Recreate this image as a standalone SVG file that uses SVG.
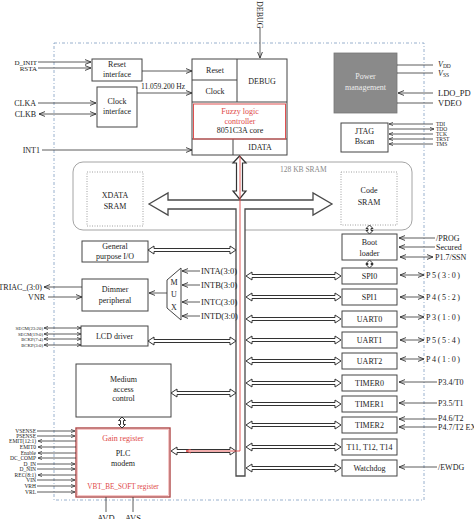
<svg xmlns="http://www.w3.org/2000/svg" width="474" height="519" viewBox="0 0 474 519">
<style>
text{font-family:"Liberation Serif","Times New Roman",serif;fill:#222}
.c{font-size:8px;text-anchor:middle}
.l{font-size:8px;text-anchor:start}
.e{font-size:8px;text-anchor:end}
.s{font-size:5.5px;text-anchor:end}
.ss{font-size:5.5px;text-anchor:start}
.xs{font-size:4.8px;text-anchor:end}
.red{fill:#e04848}
.box{fill:#fff;stroke:#444;stroke-width:1}
.ln{fill:none;stroke:#333;stroke-width:0.8}
.da{fill:#fff;stroke:#333;stroke-width:1}
</style>
<defs>
<marker id="a" viewBox="0 0 6 6" refX="6" refY="3" markerWidth="6" markerHeight="6" markerUnits="userSpaceOnUse" orient="auto-start-reverse"><path d="M0,0.6 L6,3 L0,5.4" fill="none" stroke="#333" stroke-width="0.9"/></marker>
<marker id="b" viewBox="0 0 6 6" refX="6" refY="3" markerWidth="4" markerHeight="4" markerUnits="userSpaceOnUse" orient="auto-start-reverse"><path d="M0,0.6 L6,3 L0,5.4" fill="none" stroke="#333" stroke-width="1.1"/></marker>
<marker id="rm" viewBox="0 0 6 6" refX="6" refY="3" markerWidth="5" markerHeight="5" markerUnits="userSpaceOnUse" orient="auto"><path d="M0,0.6 L6,3 L0,5.4" fill="none" stroke="#e04848" stroke-width="1"/></marker>
<path id="rda" d="M246,0 L252,-4 L252,-1.5 L335,-1.5 L335,-4 L341,0 L335,4 L335,1.5 L252,1.5 L252,4 Z"/>
</defs>

<rect x="54" y="43" width="370" height="457" fill="none" stroke="#7d9cc0" stroke-width="0.8" stroke-dasharray="3 2 1 2"/>

<g id="sram">
<rect x="73" y="162" width="339" height="68" rx="10" fill="none" stroke="#9a9a9a" stroke-width="0.9"/>
<text x="280" y="172" class="l" style="fill:#888;font-size:7.5px">128 KB SRAM</text>
</g>
<g id="xdata">
<rect x="87" y="172" width="56" height="54" fill="none" stroke="#888" stroke-width="0.8" stroke-dasharray="1 1.5"/>
<text x="115" y="198" class="c">XDATA</text><text x="115" y="209" class="c">SRAM</text>
</g>
<g id="code">
<rect x="341" y="172" width="56" height="53" fill="none" stroke="#888" stroke-width="0.8" stroke-dasharray="1 1.5"/>
<text x="369" y="193" class="c">Code</text><text x="369" y="205" class="c">SRAM</text>
</g>

<g id="cpu">
<rect x="192" y="59" width="95" height="96" class="box"/>
<path d="M192,80 H237 M237,59 V102 M192,102 H287 M192,139 H287 M233,139 V155" class="ln" style="stroke:#444;stroke-width:1"/>
<rect x="193.5" y="104" width="92" height="35" fill="none" stroke="#e05050" stroke-width="1"/>
<text x="215" y="73" class="c">Reset</text>
<text x="215" y="94" class="c">Clock</text>
<text x="262" y="84" class="c">DEBUG</text>
<text x="240" y="114" class="c red">Fuzzy logic</text>
<text x="240" y="124" class="c red">controller</text>
<text x="240" y="133" class="c">8051C3A core</text>
<text x="260" y="150" class="c">IDATA</text>
</g>

<g id="reset">
<rect x="92" y="59" width="50" height="22" class="box"/>
<text x="117" y="67" class="c">Reset</text><text x="117" y="77" class="c">interface</text>
</g>
<g id="clock">
<rect x="97" y="87" width="40" height="40" class="box"/>
<text x="117" y="104" class="c">Clock</text><text x="117" y="114" class="c">interface</text>
</g>

<g id="power">
<rect x="334" y="53" width="63" height="60" fill="#8a8a8a" stroke="#777" stroke-width="0.8"/>
<text x="365.5" y="79" class="c" style="fill:#eee">Power</text>
<text x="365.5" y="90" class="c" style="fill:#eee">management</text>
</g>
<g id="jtag">
<rect x="341" y="123" width="47" height="29" class="box"/>
<text x="364.5" y="134" class="c">JTAG</text><text x="364.5" y="144" class="c">Bscan</text>
</g>

<g id="gpio">
<rect x="82" y="241" width="66" height="21" class="box"/>
<text x="115" y="249" class="c">General</text><text x="115" y="259" class="c">purpose I/O</text>
</g>
<g id="dimmer">
<rect x="82" y="279" width="66" height="32" class="box"/>
<text x="115" y="292" class="c">Dimmer</text><text x="115" y="303" class="c">peripheral</text>
</g>
<g id="mux">
<path d="M167,280 L181,268 L181,320 L167,308 Z" fill="#fff" stroke="#444" stroke-width="1"/>
<text x="174" y="285" class="c">M</text><text x="174" y="297" class="c">U</text><text x="174" y="310" class="c">X</text>
</g>
<g id="lcd">
<rect x="81" y="326" width="67" height="20" class="box"/>
<text x="114.5" y="339" class="c">LCD driver</text>
</g>
<g id="mac">
<rect x="76" y="364" width="95" height="53" class="box"/>
<text x="123.5" y="382" class="c">Medium</text><text x="123.5" y="392" class="c">access</text><text x="123.5" y="401" class="c">control</text>
</g>
<g id="plc">
<rect x="76" y="428" width="94" height="69" fill="#fff" stroke="#b04848" stroke-width="1.4"/>
<rect x="77.5" y="429.5" width="91" height="66" fill="none" stroke="#f0a0a0" stroke-width="0.6"/>
<text x="123" y="441" class="c red">Gain register</text>
<text x="123" y="456" class="c">PLC</text>
<text x="123" y="466" class="c">modem</text>
<text x="123" y="489" class="c red" style="font-size:7.2px">VBT_BE_SOFT register</text>
</g>

<g id="boot">
<rect x="342" y="234" width="55" height="26" class="box"/>
<text x="369.5" y="245" class="c">Boot</text><text x="369.5" y="256" class="c">loader</text>
</g>
<g id="spi0"><rect x="342" y="268" width="55" height="16" class="box"/><text x="369.5" y="279" class="c">SPI0</text></g>
<g id="spi1"><rect x="342" y="289" width="55" height="16" class="box"/><text x="369.5" y="300" class="c">SPI1</text></g>
<g id="uart0"><rect x="342" y="311" width="55" height="16" class="box"/><text x="369.5" y="322" class="c">UART0</text></g>
<g id="uart1"><rect x="342" y="332" width="55" height="16" class="box"/><text x="369.5" y="343" class="c">UART1</text></g>
<g id="uart2"><rect x="342" y="353" width="55" height="16" class="box"/><text x="369.5" y="364" class="c">UART2</text></g>
<g id="timer0"><rect x="342" y="375" width="55" height="16" class="box"/><text x="369.5" y="386" class="c">TIMER0</text></g>
<g id="timer1"><rect x="342" y="396" width="55" height="16" class="box"/><text x="369.5" y="407" class="c">TIMER1</text></g>
<g id="timer2"><rect x="342" y="417" width="55" height="16" class="box"/><text x="369.5" y="428" class="c">TIMER2</text></g>
<g id="t11"><rect x="342" y="439" width="55" height="16" class="box"/><text x="369.5" y="450" class="c">T11, T12, T14</text></g>
<g id="watchdog"><rect x="342" y="460" width="55" height="16" class="box"/><text x="369.5" y="471" class="c">Watchdog</text></g>

<g id="connectors">
<path d="M149,204 L168,193 L168,200 L313,200 L313,193 L332,204 L313,215 L313,209 L245,209 L245,476 L236,476 L236,209 L168,209 L168,215 Z" fill="#fff" stroke="#4a4a4a" stroke-width="1.3"/>
<path d="M239.5,156 L246,163 L242.5,163 L242.5,191 L246,191 L239.5,199 L233,191 L236.5,191 L236.5,163 L233,163 Z" class="da" style="stroke-width:1.2"/>
<path d="M148,250 L154,246 L154,248.5 L230,248.5 L230,246 L236,250 L230,254 L230,251.5 L154,251.5 L154,254 Z" class="da"/>
<path d="M148,341 L154,337 L154,339.5 L230,339.5 L230,337 L236,341 L230,345 L230,342.5 L154,342.5 L154,345 Z" class="da"/>
<path d="M171,393 L177,389 L177,391.5 L230,391.5 L230,389 L236,393 L230,397 L230,394.5 L177,394.5 L177,397 Z" class="da"/>
<path d="M171,451 L177,447 L177,449.5 L230,449.5 L230,447 L236,451 L230,455 L230,452.5 L177,452.5 L177,455 Z" class="da"/>
<use href="#rda" y="276" class="da"/>
<use href="#rda" y="297" class="da"/>
<use href="#rda" y="319" class="da"/>
<use href="#rda" y="340" class="da"/>
<use href="#rda" y="361" class="da"/>
<use href="#rda" y="383" class="da"/>
<use href="#rda" y="404" class="da"/>
<use href="#rda" y="425" class="da"/>
<use href="#rda" y="447" class="da"/>
<use href="#rda" y="468" class="da"/>
<path d="M369.5,225 L373,228.5 L371,228.5 L371,230.5 L373,230.5 L369.5,234 L366,230.5 L368,230.5 L368,228.5 L366,228.5 Z" class="da"/>
<path d="M369.5,260 L373,263.5 L371,263.5 L371,264.5 L373,264.5 L369.5,268 L366,264.5 L368,264.5 L368,263.5 L366,263.5 Z" class="da"/>
<path d="M122,417 L125.5,420.5 L123.5,420.5 L123.5,424.5 L125.5,424.5 L122,428 L118.5,424.5 L120.5,424.5 L120.5,420.5 L118.5,420.5 Z" class="da"/>
<path d="M240,156 V451 H186" fill="none" stroke="#e04848" stroke-width="0.9" marker-end="url(#rm)"/>

<line x1="38" y1="62" x2="91" y2="62" class="ln" marker-end="url(#a)"/>
<line x1="38" y1="68" x2="91" y2="68" class="ln" marker-end="url(#a)"/>
<line x1="142" y1="71" x2="192" y2="71" class="ln" marker-end="url(#a)"/>
<line x1="137" y1="93" x2="192" y2="93" class="ln" marker-end="url(#a)"/>
<line x1="38" y1="103" x2="96" y2="103" class="ln" marker-end="url(#a)"/>
<line x1="39" y1="114" x2="96" y2="114" class="ln" marker-start="url(#a)" marker-end="url(#a)"/>
<line x1="42" y1="150" x2="192" y2="150" class="ln" marker-end="url(#a)"/>
<line x1="260" y1="27" x2="260" y2="58" class="ln" marker-end="url(#a)"/>
<line x1="397" y1="65" x2="433" y2="65" class="ln"/>
<line x1="397" y1="73" x2="433" y2="73" class="ln"/>
<line x1="433" y1="93" x2="398" y2="93" class="ln" marker-end="url(#a)"/>
<line x1="397" y1="103" x2="433" y2="103" class="ln"/>
<line x1="433" y1="124" x2="389" y2="124" class="ln" marker-end="url(#b)"/>
<line x1="389" y1="129" x2="434" y2="129" class="ln" marker-end="url(#b)"/>
<line x1="433" y1="134" x2="389" y2="134" class="ln" marker-end="url(#b)"/>
<line x1="433" y1="139" x2="389" y2="139" class="ln" marker-end="url(#b)"/>
<line x1="433" y1="144" x2="389" y2="144" class="ln" marker-end="url(#b)"/>
<line x1="435" y1="238" x2="399" y2="238" class="ln" marker-end="url(#a)"/>
<line x1="435" y1="247" x2="399" y2="247" class="ln" marker-end="url(#a)"/>
<line x1="400" y1="257" x2="433" y2="257" class="ln" marker-start="url(#a)" marker-end="url(#a)"/>
<line x1="400" y1="275" x2="424" y2="275" class="ln" marker-start="url(#a)" marker-end="url(#a)"/>
<line x1="400" y1="297" x2="424" y2="297" class="ln" marker-start="url(#a)" marker-end="url(#a)"/>
<line x1="400" y1="317" x2="424" y2="317" class="ln" marker-start="url(#a)" marker-end="url(#a)"/>
<line x1="400" y1="340" x2="424" y2="340" class="ln" marker-start="url(#a)" marker-end="url(#a)"/>
<line x1="400" y1="359" x2="424" y2="359" class="ln" marker-start="url(#a)" marker-end="url(#a)"/>
<line x1="437" y1="382" x2="399" y2="382" class="ln" marker-end="url(#a)"/>
<line x1="437" y1="403" x2="399" y2="403" class="ln" marker-end="url(#a)"/>
<line x1="437" y1="419" x2="399" y2="419" class="ln" marker-end="url(#a)"/>
<line x1="437" y1="427" x2="399" y2="427" class="ln" marker-end="url(#a)"/>
<line x1="437" y1="467" x2="399" y2="467" class="ln" marker-end="url(#a)"/>
<line x1="82" y1="287" x2="44" y2="287" class="ln" marker-end="url(#a)"/>
<line x1="48" y1="297" x2="82" y2="297" class="ln" marker-end="url(#a)"/>
<line x1="167" y1="293" x2="149" y2="293" class="ln" marker-end="url(#a)"/>
<line x1="200" y1="271" x2="182" y2="271" class="ln" marker-end="url(#a)"/>
<line x1="200" y1="285" x2="182" y2="285" class="ln" marker-end="url(#a)"/>
<line x1="200" y1="302" x2="182" y2="302" class="ln" marker-end="url(#a)"/>
<line x1="200" y1="316" x2="182" y2="316" class="ln" marker-end="url(#a)"/>
<line x1="44" y1="328" x2="81" y2="328" class="ln" marker-start="url(#b)" marker-end="url(#b)"/>
<line x1="44" y1="334" x2="81" y2="334" class="ln" marker-start="url(#b)" marker-end="url(#b)"/>
<line x1="44" y1="339" x2="81" y2="339" class="ln" marker-start="url(#b)" marker-end="url(#b)"/>
<line x1="44" y1="345" x2="81" y2="345" class="ln" marker-start="url(#b)" marker-end="url(#b)"/>
<line x1="37" y1="431" x2="75" y2="431" class="ln" marker-end="url(#b)"/>
<line x1="37" y1="436" x2="75" y2="436" class="ln" marker-end="url(#b)"/>
<line x1="76" y1="441" x2="38" y2="441" class="ln" marker-end="url(#b)"/>
<line x1="76" y1="447" x2="38" y2="447" class="ln" marker-end="url(#b)"/>
<line x1="76" y1="453" x2="38" y2="453" class="ln" marker-end="url(#b)"/>
<line x1="76" y1="458" x2="38" y2="458" class="ln" marker-end="url(#b)"/>
<line x1="37" y1="464" x2="75" y2="464" class="ln" marker-end="url(#b)"/>
<line x1="37" y1="469" x2="75" y2="469" class="ln" marker-end="url(#b)"/>
<line x1="76" y1="475" x2="38" y2="475" class="ln" marker-end="url(#b)"/>
<line x1="37" y1="480" x2="75" y2="480" class="ln" marker-end="url(#b)"/>
<line x1="37" y1="486" x2="75" y2="486" class="ln" marker-end="url(#b)"/>
<line x1="37" y1="492" x2="75" y2="492" class="ln" marker-end="url(#b)"/>
<line x1="106" y1="497" x2="106" y2="512" class="ln"/>
<line x1="133" y1="497" x2="133" y2="512" class="ln"/>
</g>

<g id="labels">
<text x="37" y="64.5" class="e" style="font-size:7px">D_INIT</text>
<text x="37" y="70.5" class="e" style="font-size:7px">RSTA</text>
<text x="163" y="89" class="c" style="font-size:7.5px">11.059.200 Hz</text>
<text x="36" y="106" class="e">CLKA</text>
<text x="36" y="117" class="e">CLKB</text>
<text x="40" y="153" class="e">INT1</text>
<text transform="translate(257,1) rotate(90)" class="l">DEBUG</text>
<text x="438" y="67" style="font-size:8px"><tspan font-style="italic">V</tspan><tspan font-size="5.5" dy="1">DD</tspan></text>
<text x="438" y="76" style="font-size:8px"><tspan font-style="italic">V</tspan><tspan font-size="5.5" dy="1">SS</tspan></text>
<text x="438" y="96" class="l" style="font-size:8.5px">LDO_PD</text>
<text x="438" y="106" class="l" style="font-size:8.5px">VDEO</text>
<text x="436" y="126" class="ss">TDI</text>
<text x="436" y="131" class="ss">TDO</text>
<text x="436" y="136" class="ss">TCK</text>
<text x="436" y="141" class="ss">TRST</text>
<text x="436" y="146" class="ss">TMS</text>
<text x="436" y="241" class="l">/PROG</text>
<text x="436" y="250" class="l">Secured</text>
<text x="435" y="260" class="l">P1.7/SSN</text>
<text x="426" y="278" class="l" textLength="34">P5(3:0)</text>
<text x="426" y="300" class="l" textLength="34">P4(5:2)</text>
<text x="426" y="320" class="l" textLength="34">P3(1:0)</text>
<text x="426" y="343" class="l" textLength="34">P5(5:4)</text>
<text x="426" y="362" class="l" textLength="34">P4(1:0)</text>
<text x="438" y="385" class="l">P3.4/T0</text>
<text x="438" y="406" class="l">P3.5/T1</text>
<text x="438" y="421" class="l">P4.6/T2</text>
<text x="438" y="430" class="l">P4.7/T2 EX</text>
<text x="438" y="470" class="l">/EWDG</text>
<text x="42" y="290" class="e">TRIAC_(3:0)</text>
<text x="45" y="300" class="e">VNR</text>
<text x="201" y="274" class="l" style="font-size:8.5px">INTA(3:0)</text>
<text x="201" y="288" class="l" style="font-size:8.5px">INTB(3:0)</text>
<text x="201" y="305" class="l" style="font-size:8.5px">INTC(3:0)</text>
<text x="201" y="319" class="l" style="font-size:8.5px">INTD(3:0)</text>
<text x="43" y="330" class="xs">SEGM(23:20)</text>
<text x="43" y="336" class="xs">SEGM(19:0)</text>
<text x="43" y="341" class="xs">BCKP(7:4)</text>
<text x="43" y="347" class="xs">BCKP(3:0)</text>
<text x="36" y="433" class="s">VSENSE</text>
<text x="36" y="438" class="s">PSENSE</text>
<text x="36" y="443" class="s">EMIT(12:1)</text>
<text x="36" y="449" class="s">EMIT0</text>
<text x="36" y="455" class="s">Enable</text>
<text x="36" y="460" class="s">DC_COMP</text>
<text x="36" y="466" class="s">D_IN</text>
<text x="36" y="471" class="s">D_NIN</text>
<text x="36" y="477" class="s">REC(8:1)</text>
<text x="36" y="482" class="s">VIN</text>
<text x="36" y="488" class="s">VRH</text>
<text x="36" y="494" class="s">VRL</text>
<text x="106" y="521" class="c" style="font-size:8.5px">AVD</text>
<text x="133" y="521" class="c" style="font-size:8.5px">AVS</text>
</g>
</svg>
